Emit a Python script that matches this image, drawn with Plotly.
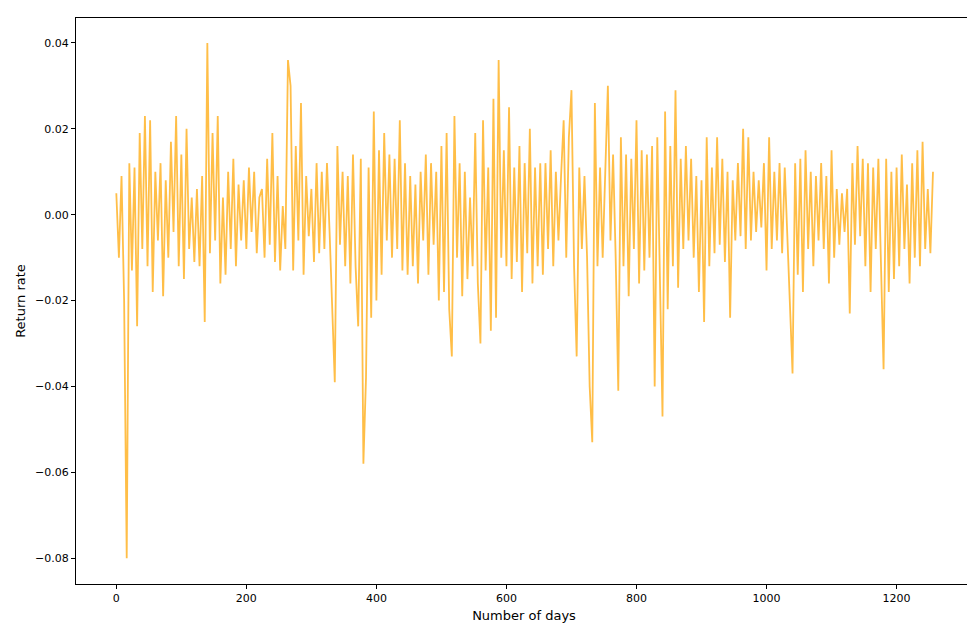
import plotly.graph_objects as go

days = list(range(0, 1260, 4))
returns = [
    0.005, -0.010, 0.009, -0.020, -0.080, 0.012, -0.013, 0.011, -0.026, 0.019, -0.008, 0.023, -0.012, 0.022, -0.018,
    0.010, -0.006, 0.012, -0.019, 0.008, -0.010, 0.017, -0.004, 0.023, -0.012, 0.014, -0.015, 0.020, -0.008, 0.004,
    -0.011, 0.006, -0.012, 0.009, -0.025, 0.040, -0.009, 0.019, -0.006, 0.023, -0.016, 0.004, -0.014, 0.010, -0.008,
    0.013, -0.012, 0.007, -0.006, 0.008, -0.008, 0.011, -0.004, 0.010, -0.009, 0.004, 0.006, -0.010, 0.013, -0.007,
    0.019, -0.011, 0.009, -0.013, 0.002, -0.008, 0.036, 0.030, -0.013, 0.016, -0.006, 0.026, -0.014, 0.009, -0.005,
    0.006, -0.011, 0.012, -0.009, 0.010, -0.008, 0.012, -0.004, -0.023, -0.039, 0.016, -0.007, 0.010, -0.012, 0.009,
    -0.016, 0.014, -0.012, -0.026, 0.013, -0.058, -0.038, 0.011, -0.024, 0.024, -0.020, 0.015, -0.014, 0.019, -0.006,
    0.014, -0.010, 0.013, -0.008, 0.022, -0.013, 0.012, -0.014, 0.009, -0.012, 0.007, -0.016, 0.010, -0.006, 0.014,
    -0.014, 0.012, -0.007, 0.010, -0.020, 0.016, -0.018, 0.019, -0.022, -0.033, 0.023, -0.010, 0.012, -0.019, 0.010,
    -0.015, 0.004, -0.012, 0.019, -0.016, -0.030, 0.022, -0.013, 0.011, -0.027, 0.027, -0.024, 0.036, -0.010, 0.015,
    -0.012, 0.025, -0.015, 0.011, -0.011, 0.016, -0.018, 0.012, -0.009, 0.020, -0.016, 0.011, -0.012, 0.012, -0.014,
    0.012, -0.008, 0.015, -0.012, 0.010, -0.006, 0.009, 0.022, -0.010, 0.018, 0.029, -0.012, -0.033, 0.011, -0.008,
    0.009, -0.010, -0.040, -0.053, 0.026, -0.012, 0.011, -0.010, 0.012, 0.030, -0.006, 0.014, -0.010, -0.041, 0.018,
    -0.012, 0.014, -0.019, 0.013, -0.008, 0.022, -0.016, 0.015, -0.013, 0.014, -0.010, 0.016, -0.040, 0.018, -0.012,
    -0.047, 0.024, -0.022, 0.016, -0.012, 0.029, -0.017, 0.013, -0.008, 0.016, -0.006, 0.013, -0.010, 0.009, -0.018,
    0.008, -0.025, 0.018, -0.012, 0.011, -0.009, 0.018, -0.007, 0.013, -0.011, 0.010, -0.024, 0.008, -0.006, 0.012,
    -0.005, 0.020, -0.008, 0.018, -0.006, 0.010, -0.004, 0.008, -0.003, 0.012, -0.013, 0.018, -0.008, 0.010, -0.006,
    0.012, -0.009, 0.011, -0.005, -0.023, -0.037, 0.012, -0.014, 0.013, -0.018, 0.015, -0.008, 0.010, -0.012, 0.009,
    -0.006, 0.012, -0.008, 0.009, -0.016, 0.015, -0.010, 0.006, -0.007, 0.005, -0.004, 0.006, -0.023, 0.012, -0.007,
    0.016, -0.005, 0.013, -0.012, 0.012, -0.018, 0.011, -0.008, 0.013, -0.012, -0.036, 0.013, -0.018, 0.010, -0.015,
    0.011, -0.012, 0.014, -0.008, 0.007, -0.016, 0.012, -0.010, 0.015, -0.012, 0.017, -0.008, 0.006, -0.009, 0.010,
]

fig = go.Figure(go.Scatter(x=days, y=returns, mode='lines',
                           line=dict(color='rgba(255,165,0,0.72)', width=1.8)))

axis = dict(showline=True, linecolor='black', linewidth=1, mirror=True, automargin=False,
            ticks='outside', ticklen=4, tickcolor='black', showgrid=False, zeroline=False)

fig.update_layout(
    width=975, height=624,
    margin=dict(l=68, r=11, t=10, b=48),
    plot_bgcolor='white', paper_bgcolor='white',
    font=dict(family='DejaVu Sans', size=11, color='black'),
    showlegend=False,
)
fig.update_xaxes(axis, range=[-62, 1316], tickvals=[0, 200, 400, 600, 800, 1000, 1200],
                 title=dict(text='Number of days', standoff=6))
fig.update_yaxes(axis, range=[-0.086, 0.0458],
                 tickvals=[-0.08, -0.06, -0.04, -0.02, 0, 0.02, 0.04],
                 ticktext=['−0.08', '−0.06', '−0.04', '−0.02', '0.00', '0.02', '0.04'],
                 title=dict(text='Return rate', standoff=6))

fig.write_html("out.html")
